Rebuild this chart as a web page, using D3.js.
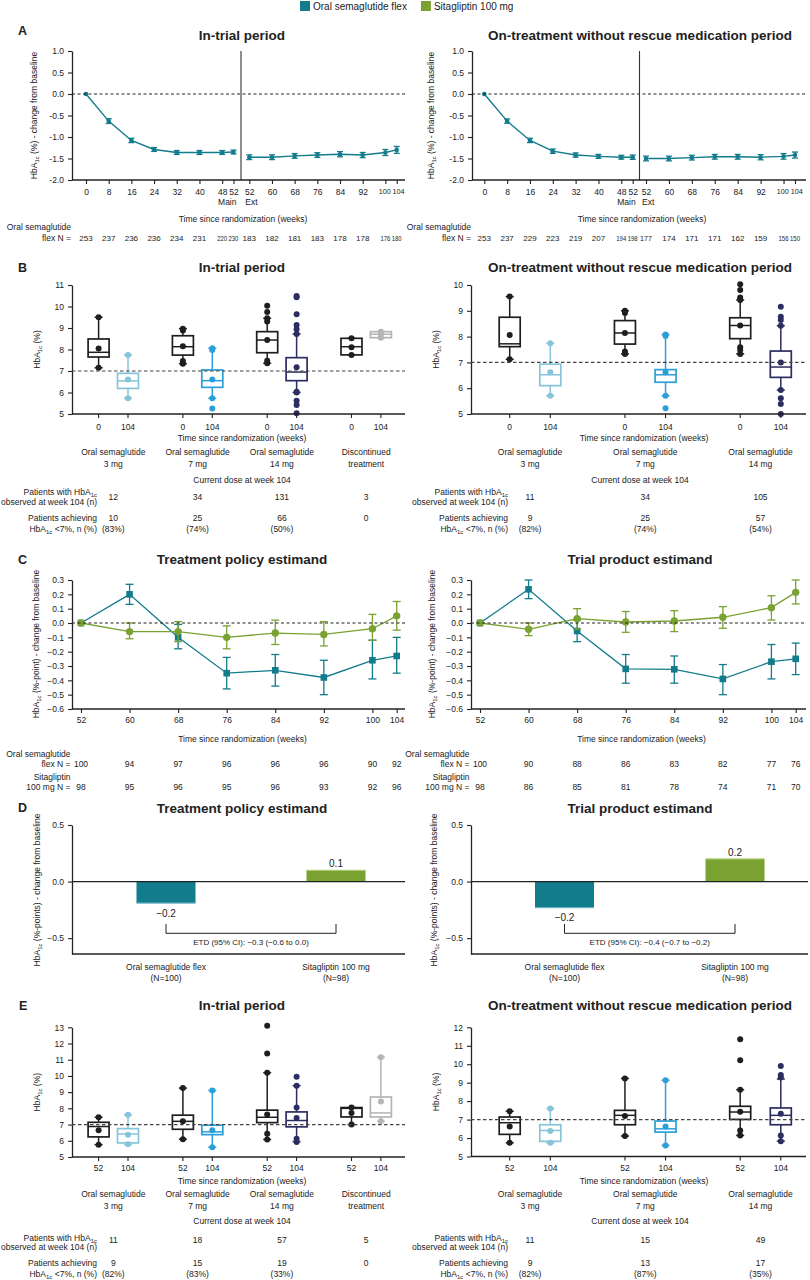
<!DOCTYPE html>
<html>
<head>
<meta charset="utf-8">
<title>HbA1c change</title>
<script src="https://cdnjs.cloudflare.com/ajax/libs/d3/7.8.5/d3.min.js"></script>
<style>
  body { margin: 0; background: #fff; }
  svg text { font-family: "Liberation Sans", Arial, Helvetica, sans-serif; }
</style>
</head>
<body>
<svg id="fig" width="810" height="1280"></svg>
<script>
// ---------------- data ----------------
var seriesNames = ["Oral semaglutide flex", "Sitagliptin 100 mg"]

// A: change from baseline over time
var weeksMain = [0, 8, 16, 24, 32, 40, 48, 52]
var weeksExt = [52, 60, 68, 76, 84, 92, 100, 104]
var aYTicks = [1.0, 0.5, 0.0, -0.5, -1.0, -1.5, -2.0]
var aTrialMain = [0, -0.63, -1.08, -1.29, -1.36, -1.36, -1.36, -1.35]
var aTrialMainErr = [0, 0.055, 0.05, 0.045, 0.045, 0.045, 0.045, 0.045]
var aTrialExt = [-1.47, -1.47, -1.44, -1.42, -1.40, -1.42, -1.36, -1.30]
var aTrialExtErr = [0.055, 0.055, 0.055, 0.055, 0.06, 0.06, 0.07, 0.08]
var aTrialN = [253, 237, 236, 236, 234, 231, 220, 230, 183, 182, 181, 183, 178, 178, 176, 180]
var aOtMain = [0, -0.63, -1.08, -1.33, -1.42, -1.45, -1.47, -1.47]
var aOtMainErr = [0, 0.05, 0.05, 0.05, 0.05, 0.045, 0.045, 0.05]
var aOtExt = [-1.50, -1.50, -1.48, -1.46, -1.46, -1.47, -1.45, -1.42]
var aOtExtErr = [0.055, 0.055, 0.055, 0.055, 0.055, 0.06, 0.065, 0.07]
var aOtN = [253, 237, 229, 223, 219, 207, 194, 198, 177, 174, 171, 171, 162, 159, 156, 150]

// B: HbA1c by current dose, weeks 0 and 104
var bTimes = ["0", "104"]
var bGroupsTrial = [["Oral semaglutide", "3 mg"], ["Oral semaglutide", "7 mg"], ["Oral semaglutide", "14 mg"], ["Discontinued", "treatment"]]
var bGroupsOt = [["Oral semaglutide", "3 mg"], ["Oral semaglutide", "7 mg"], ["Oral semaglutide", "14 mg"]]
var bTrialBoxes = [
  {g: 0, t: 0, q1: 7.65, med: 7.87, q3: 8.49, mean: 8.05, lo: 7.15, hi: 9.5, pts: [7.15, 9.5]},
  {g: 0, t: 1, q1: 6.19, med: 6.54, q3: 6.89, mean: 6.61, lo: 5.73, hi: 7.75, pts: [5.73, 7.75]},
  {g: 1, t: 0, q1: 7.74, med: 8.13, q3: 8.64, mean: 8.15, lo: 7.34, hi: 8.97, pts: [7.34, 7.47, 8.88, 8.97]},
  {g: 1, t: 1, q1: 6.24, med: 6.55, q3: 7.05, mean: 6.61, lo: 5.73, hi: 8.06, pts: [5.26, 5.73, 7.98, 8.06]},
  {g: 2, t: 0, q1: 7.85, med: 8.44, q3: 8.83, mean: 8.44, lo: 7.36, hi: 9.45, pts: [7.36, 7.48, 9.3, 9.45, 9.75, 10.03]},
  {g: 2, t: 1, q1: 6.55, med: 6.95, q3: 7.62, mean: 7.17, lo: 6.0, hi: 8.72, pts: [5.03, 5.42, 5.62, 6.0, 6.04, 8.72, 8.94, 9.14, 9.64, 10.43, 10.49]},
  {g: 3, t: 0, q1: 7.75, med: 8.13, q3: 8.52, mean: 8.1, lo: 7.75, hi: 8.52, pts: [7.75, 8.52]},
  {g: 3, t: 1, q1: 8.55, med: 8.71, q3: 8.83, mean: 8.7, lo: 8.55, hi: 8.83, pts: [8.55, 8.83]}
]
var bOtBoxes = [
  {g: 0, t: 0, q1: 7.61, med: 7.72, q3: 8.75, mean: 8.06, lo: 7.12, hi: 9.55, pts: [7.12, 9.55]},
  {g: 0, t: 1, q1: 6.10, med: 6.52, q3: 6.93, mean: 6.62, lo: 5.71, hi: 7.74, pts: [5.71, 7.74]},
  {g: 1, t: 0, q1: 7.71, med: 8.14, q3: 8.62, mean: 8.14, lo: 7.33, hi: 9.0, pts: [7.33, 7.42, 8.91, 9.0]},
  {g: 1, t: 1, q1: 6.23, med: 6.52, q3: 6.72, mean: 6.62, lo: 5.71, hi: 8.08, pts: [5.22, 5.71, 8.02, 8.08]},
  {g: 2, t: 0, q1: 7.92, med: 8.43, q3: 8.73, mean: 8.43, lo: 7.33, hi: 9.42, pts: [7.33, 7.48, 7.59, 9.42, 9.52, 9.81, 10.03]},
  {g: 2, t: 1, q1: 6.42, med: 6.82, q3: 7.44, mean: 7.0, lo: 5.93, hi: 8.42, pts: [5.0, 5.39, 5.61, 5.93, 8.42, 8.64, 8.77, 9.16]}
]
var bTrialN = ["12", "34", "131", "3"]
var bTrialAch = ["10", "25", "66", "0"]
var bTrialPct = ["(83%)", "(74%)", "(50%)", ""]
var bOtN = ["11", "34", "105"]
var bOtAch = ["9", "25", "57"]
var bOtPct = ["(82%)", "(74%)", "(54%)"]

// C: change from week 52 in extension
var cWeeks = [52, 60, 68, 76, 84, 92, 100, 104]
var cYTicks = [0.3, 0.2, 0.1, 0.0, -0.1, -0.2, -0.3, -0.4, -0.5, -0.6]
var cTpSema = [0, 0.20, -0.10, -0.35, -0.33, -0.38, -0.26, -0.23]
var cTpSemaLo = [0, 0.13, -0.18, -0.46, -0.44, -0.50, -0.39, -0.35]
var cTpSemaHi = [0, 0.27, -0.01, -0.24, -0.22, -0.26, -0.12, -0.10]
var cTpSita = [0, -0.06, -0.06, -0.10, -0.07, -0.08, -0.04, 0.05]
var cTpSitaLo = [0, -0.11, -0.13, -0.18, -0.15, -0.16, -0.12, -0.05]
var cTpSitaHi = [0, 0.00, 0.01, -0.02, 0.02, 0.01, 0.06, 0.15]
var cTrSema = [0, 0.235, -0.056, -0.32, -0.323, -0.39, -0.27, -0.25]
var cTrSemaLo = [0, 0.17, -0.13, -0.42, -0.42, -0.50, -0.39, -0.36]
var cTrSemaHi = [0, 0.30, 0.02, -0.22, -0.23, -0.29, -0.15, -0.14]
var cTrSita = [0, -0.044, 0.03, 0.007, 0.014, 0.04, 0.107, 0.214]
var cTrSitaLo = [0, -0.088, -0.044, -0.065, -0.06, -0.037, 0.021, 0.133]
var cTrSitaHi = [0, 0.0, 0.10, 0.08, 0.086, 0.114, 0.19, 0.30]
var cTpSemaN = [100, 94, 97, 96, 96, 96, 90, 92]
var cTpSitaN = [98, 95, 96, 95, 96, 93, 92, 96]
var cTrSemaN = [100, 90, 88, 86, 83, 82, 77, 76]
var cTrSitaN = [98, 86, 85, 81, 78, 74, 71, 70]

// D: change at week 104
var dGroups = ["Oral semaglutide flex", "Sitagliptin 100 mg"]
var dGroupN = ["(N=100)", "(N=98)"]
var dYTicks = [0.5, 0.0, -0.5]
var dTpValues = [-0.19, 0.10]
var dTpLabels = ["\u22120.2", "0.1"]
var dTpEtd = "ETD (95% CI): \u22120.3 (\u22120.6 to 0.0)"
var dTrValues = [-0.23, 0.20]
var dTrLabels = ["\u22120.2", "0.2"]
var dTrEtd = "ETD (95% CI): \u22120.4 (\u22120.7 to \u22120.2)"

// E: HbA1c by current dose, weeks 52 and 104
var eTimes = ["52", "104"]
var eTrialBoxes = [
  {g: 0, t: 0, q1: 6.24, med: 6.88, q3: 7.14, mean: 6.65, lo: 5.76, hi: 7.45, pts: [5.76, 7.45]},
  {g: 0, t: 1, q1: 5.87, med: 6.42, q3: 6.75, mean: 6.38, lo: 5.78, hi: 7.6, pts: [5.78, 7.6]},
  {g: 1, t: 0, q1: 6.71, med: 7.2, q3: 7.58, mean: 7.2, lo: 6.1, hi: 9.25, pts: [6.1, 9.25]},
  {g: 1, t: 1, q1: 6.38, med: 6.55, q3: 6.96, mean: 6.65, lo: 5.6, hi: 9.1, pts: [5.6, 9.1]},
  {g: 2, t: 0, q1: 7.12, med: 7.45, q3: 7.89, mean: 7.62, lo: 6.08, hi: 10.2, pts: [6.08, 6.44, 10.2, 11.39, 13.1]},
  {g: 2, t: 1, q1: 6.86, med: 7.25, q3: 7.78, mean: 7.4, lo: 5.95, hi: 9.4, pts: [5.92, 6.13, 8.05, 9.4, 9.95]},
  {g: 3, t: 0, q1: 7.47, med: 8.0, q3: 8.05, mean: 7.72, lo: 7.0, hi: 8.05, pts: [7.0, 8.05]},
  {g: 3, t: 1, q1: 7.47, med: 7.72, q3: 8.7, mean: 8.42, lo: 7.2, hi: 11.15, pts: [7.2, 11.15]}
]
var eOtBoxes = [
  {g: 0, t: 0, q1: 6.2, med: 6.83, q3: 7.14, mean: 6.62, lo: 5.74, hi: 7.45, pts: [5.74, 7.45]},
  {g: 0, t: 1, q1: 5.82, med: 6.41, q3: 6.72, mean: 6.38, lo: 5.74, hi: 7.6, pts: [5.74, 7.6]},
  {g: 1, t: 0, q1: 6.72, med: 7.23, q3: 7.5, mean: 7.2, lo: 6.11, hi: 9.23, pts: [6.11, 9.23]},
  {g: 1, t: 1, q1: 6.32, med: 6.5, q3: 6.92, mean: 6.63, lo: 5.6, hi: 9.13, pts: [5.6, 9.13]},
  {g: 2, t: 0, q1: 7.01, med: 7.41, q3: 7.72, mean: 7.43, lo: 6.14, hi: 8.62, pts: [6.14, 6.41, 8.62, 10.22, 11.35]},
  {g: 2, t: 1, q1: 6.72, med: 7.23, q3: 7.63, mean: 7.32, lo: 5.83, hi: 9.2, pts: [5.83, 6.14, 9.28, 9.41, 9.9]}
]
var eTrialN = ["11", "18", "57", "5"]
var eTrialAch = ["9", "15", "19", "0"]
var eTrialPct = ["(82%)", "(83%)", "(33%)", ""]
var eOtN = ["11", "15", "49"]
var eOtAch = ["9", "13", "17"]
var eOtPct = ["(82%)", "(87%)", "(35%)"]

// ---------------- drawing ----------------
var svg = d3.select("#fig")
var INK = "#222"
var TEAL = "#127b8c"
var GREEN = "#7aa232"
var BOX0 = "#1e1e1e"
var BOX104 = ["#86c4d9", "#2ba0d8", "#2c2d60", "#b5b5b5"]

function txt(x, y, s, o) {
  o = o || {}
  return svg.append("text").attr("x", x).attr("y", y)
    .attr("text-anchor", o.anchor || "middle")
    .style("font-size", (o.size || 8.5) + "px")
    .style("font-weight", o.bold ? "bold" : "normal")
    .attr("fill", INK)
    .text(s)
}

// text with a "1c" subscript part
function rich(x, y, parts, anchor, rotate) {
  var t = svg.append("text").attr("text-anchor", anchor || "middle")
    .style("font-size", "8.5px").attr("fill", INK)
  if (rotate) t.attr("transform", "translate(" + x + "," + y + ") rotate(-90)")
  else t.attr("x", x).attr("y", y)
  var down = false
  parts.forEach(function (p) {
    var sp = t.append("tspan").text(p[0])
    if (p[1]) { sp.attr("dy", 2).style("font-size", "6px"); down = true }
    else if (down) { sp.attr("dy", -2); down = false }
  })
  return t
}

function styleAxis(g) {
  g.attr("font-size", 8.5)
  g.select(".domain").attr("stroke", INK).attr("stroke-width", 1.3)
  g.selectAll(".tick line").attr("stroke", INK).attr("stroke-width", 1.1)
  g.selectAll(".tick text").attr("fill", INK).style("font-size", "8.5px")
}

// narrow a centred label only when its neighbours sit too close
function fitRow(sel, xs, pad) {
  sel.each(function (d, i) {
    var gap = Infinity
    if (i > 0) gap = Math.min(gap, xs[i] - xs[i - 1])
    if (i < xs.length - 1) gap = Math.min(gap, xs[i + 1] - xs[i])
    var w = this.getComputedTextLength()
    if (w > gap - pad) d3.select(this).attr("textLength", gap - pad).attr("lengthAdjust", "spacingAndGlyphs")
  })
}

function hline(x1, x2, y, o) {
  o = o || {}
  return svg.append("line").attr("x1", x1).attr("x2", x2).attr("y1", y).attr("y2", y)
    .attr("stroke", o.color || INK).attr("stroke-width", o.w || 1.3)
    .attr("stroke-dasharray", o.dash || null)
}

function errorBars(g, pts, cap, color) {
  var eb = g.append("g").selectAll("g").data(pts.filter(function (d) { return d.lo !== d.hi })).join("g")
  eb.append("line").attr("x1", d => d.x).attr("x2", d => d.x).attr("y1", d => d.lo).attr("y2", d => d.hi)
  eb.append("line").attr("x1", d => d.x - cap / 2).attr("x2", d => d.x + cap / 2).attr("y1", d => d.lo).attr("y2", d => d.lo)
  eb.append("line").attr("x1", d => d.x - cap / 2).attr("x2", d => d.x + cap / 2).attr("y1", d => d.hi).attr("y2", d => d.hi)
  eb.selectAll("line").attr("stroke", color).attr("stroke-width", 1.3)
}

// legend
var lg = svg.append("g")
var lx = 300
seriesNames.forEach(function (name, i) {
  lg.append("rect").attr("x", lx).attr("y", 1).attr("width", 10).attr("height", 10)
    .attr("fill", i === 0 ? TEAL : GREEN)
  var t = lg.append("text").attr("x", lx + 13).attr("y", 10).style("font-size", "10px").attr("fill", INK).text(name)
  lx += 13 + t.node().getComputedTextLength() + 14
})

// ---- panel A ----
function linePanel(o) {
  var y = d3.scaleLinear().domain([-2, 1]).range([180, 51])
  var xM = d3.scaleLinear().domain([0, 52]).range(o.main)
  var xE = d3.scaleLinear().domain([52, 104]).range(o.ext)
  var g = svg.append("g")

  hline(o.axisX, o.xEnd, y(0), {w: 1, dash: "3,2.5"})
  svg.append("line").attr("x1", o.divider).attr("x2", o.divider).attr("y1", y(1)).attr("y2", y(-2))
    .attr("stroke", "#333").attr("stroke-width", 1.1)

  var ya = g.append("g").attr("transform", "translate(" + o.axisX + ",0)")
    .call(d3.axisLeft(y).tickValues(aYTicks).tickFormat(d => d.toFixed(1)).tickSize(4).tickPadding(4).tickSizeOuter(0))
  styleAxis(ya)
  hline(o.axisX, o.xEnd, y(-2))
  var xa1 = g.append("g").attr("transform", "translate(0," + y(-2) + ")")
    .call(d3.axisBottom(xM).tickValues(weeksMain).tickSize(4).tickPadding(5))
  var xa2 = g.append("g").attr("transform", "translate(0," + y(-2) + ")")
    .call(d3.axisBottom(xE).tickValues(weeksExt).tickSize(4).tickPadding(5))
  xa1.select(".domain").remove()
  xa2.select(".domain").remove()
  styleAxis(xa1)
  styleAxis(xa2)
  // the last two ext ticks are only 4 weeks apart: smaller labels, nudged apart
  xa2.selectAll(".tick text").filter(d => d >= 100)
    .style("font-size", "7.2px").attr("dx", d => d === 100 ? -1.2 : 1.2)
  txt(xM(52) + 3, 205, "Main", {anchor: "end"})
  txt(xE(52) - 4, 205, "Ext", {anchor: "start"})
  txt(o.timeX, 222, "Time since randomization (weeks)")

  var pm = weeksMain.map((w, i) => ({x: xM(w), v: o.mainVals[i], lo: y(o.mainVals[i] - o.mainErr[i]), hi: y(o.mainVals[i] + o.mainErr[i])}))
  var pe = weeksExt.map((w, i) => ({x: xE(w), v: o.extVals[i], lo: y(o.extVals[i] - o.extErr[i]), hi: y(o.extVals[i] + o.extErr[i])}))
  var line = d3.line().x(d => d.x).y(d => y(d.v))
  ;[pm, pe].forEach(function (pts) {
    g.append("path").attr("d", line(pts)).attr("fill", "none").attr("stroke", TEAL).attr("stroke-width", 1.4)
    errorBars(g, pts, 6, TEAL)
    g.append("g").selectAll("circle").data(pts).join("circle")
      .attr("cx", d => d.x).attr("cy", d => y(d.v)).attr("r", 2.3).attr("fill", TEAL)
  })

  txt(o.axisX - 1, 230, "Oral semaglutide", {anchor: "end"})
  txt(o.axisX - 1, 241, "flex N =", {anchor: "end"})
  var allX = pm.concat(pe).map(d => d.x)
  var nt = g.append("g").selectAll("text").data(o.n).join("text")
    .attr("x", (d, i) => allX[i]).attr("y", 241).attr("text-anchor", "middle")
    .style("font-size", "8px").attr("fill", INK).text(d => d)
  fitRow(nt, allX, 1.5)

  rich(o.labelX, 115.5, [["HbA"], ["1c", 1], [" (%) - change from baseline"]], "middle", true)
  txt(o.titleX, 40, o.title, {size: 13.5, bold: true})
}

txt(18, 35, "A", {anchor: "start", size: 12.5, bold: true})
linePanel({axisX: 72, xEnd: 405, main: [86, 233.5], ext: [249.3, 396.7], divider: 241, timeX: 243, labelX: 37,
  titleX: 242, title: "In-trial period", mainVals: aTrialMain, mainErr: aTrialMainErr, extVals: aTrialExt, extErr: aTrialExtErr, n: aTrialN})
linePanel({axisX: 472, xEnd: 806, main: [484.3, 632.7], ext: [646, 795], divider: 639.5, timeX: 642, labelX: 434,
  titleX: 640, title: "On-treatment without rescue medication period", mainVals: aOtMain, mainErr: aOtMainErr, extVals: aOtExt, extErr: aOtExtErr, n: aOtN})

// ---- panels B and E ----
function boxPanel(o) {
  var y = d3.scaleLinear().domain(o.yDomain).range(o.yRange)
  var gx = d3.scalePoint().domain(d3.range(o.groups.length)).range(o.groupRange)
  var tx = d3.scalePoint().domain([0, 1]).range([-o.inner, o.inner])
  var bx = d => gx(d.g) + tx(d.t)
  var colour = d => d.t === 0 ? BOX0 : BOX104[d.g]
  var g = svg.append("g")
  var r = o.rows

  hline(o.axisX, o.xEnd, y(7), {color: "#444", w: 1.1, dash: "3.5,2.5"})
  var ya = g.append("g").attr("transform", "translate(" + o.axisX + ",0)")
    .call(d3.axisLeft(y).tickValues(d3.range(o.yDomain[0], o.yDomain[1] + 1)).tickFormat(d3.format("d"))
      .tickSize(4).tickPadding(4).tickSizeOuter(0))
  styleAxis(ya)
  hline(o.axisX, o.xEnd, o.yRange[0], {w: 1.5})

  var tk = g.append("g").selectAll("g").data(o.boxes).join("g")
    .attr("transform", d => "translate(" + bx(d) + "," + o.yRange[0] + ")")
  tk.append("line").attr("y2", 4).attr("stroke", INK).attr("stroke-width", 1.1)
  tk.append("text").attr("y", r.tick - o.yRange[0]).attr("text-anchor", "middle")
    .style("font-size", "8.5px").attr("fill", INK).text(d => o.times[d.t])

  var bw = 21
  g.append("g").selectAll("g").data(o.boxes).join("g").each(function (d) {
    var s = d3.select(this)
    var x = bx(d), c = colour(d)
    s.append("line").attr("x1", x).attr("x2", x).attr("y1", y(d.lo)).attr("y2", y(d.hi))
      .attr("stroke", c).attr("stroke-width", 1.5)
    s.selectAll(".cap").data([d.lo, d.hi]).join("line")
      .attr("x1", x - 4).attr("x2", x + 4).attr("y1", v => y(v)).attr("y2", v => y(v))
      .attr("stroke", c).attr("stroke-width", 1.5)
    s.append("rect").attr("x", x - bw / 2).attr("y", y(d.q3)).attr("width", bw).attr("height", y(d.q1) - y(d.q3))
      .attr("fill", "#fff").attr("stroke", c).attr("stroke-width", 1.7)
    s.append("line").attr("x1", x - bw / 2).attr("x2", x + bw / 2).attr("y1", y(d.med)).attr("y2", y(d.med))
      .attr("stroke", c).attr("stroke-width", 1.5)
    s.selectAll(".pt").data(d.pts.concat([d.mean])).join("circle")
      .attr("cx", x).attr("cy", v => y(v)).attr("r", 3).attr("fill", c)
  })

  txt(o.timeX, r.time, "Time since randomization (weeks)")
  g.append("g").selectAll("text").data(o.groups).join("text")
    .attr("x", (d, i) => gx(i)).attr("y", r.grp).attr("text-anchor", "middle")
    .style("font-size", "8.5px").attr("fill", INK)
    .selectAll("tspan").data(d => d).join("tspan")
    .attr("x", function () { return d3.select(this.parentNode).attr("x") })
    .attr("dy", (d, i) => i === 0 ? 0 : 12).text(d => d)
  txt(o.curX, r.cur, "Current dose at week 104")

  rich(o.labelX, r.r1a, [["Patients with HbA"], ["1c", 1]], "end")
  txt(o.labelX, r.r1b, "observed at week 104 (n)", {anchor: "end"})
  rich(o.labelX, r.r2a, [["Patients achieving"]], "end")
  rich(o.labelX, r.r2b, [["HbA"], ["1c", 1], [" <7%, n (%)"]], "end")
  var rows = [[o.n, r.r1n], [o.ach, r.r2a], [o.pct, r.r2b]]
  rows.forEach(function (row) {
    g.append("g").selectAll("text").data(row[0]).join("text")
      .attr("x", (d, i) => gx(i)).attr("y", row[1]).attr("text-anchor", "middle")
      .style("font-size", "8.5px").attr("fill", INK).text(d => d)
  })

  rich(o.yLabelX, (o.yRange[0] + o.yRange[1]) / 2, [["HbA"], ["1c", 1], [" (%)"]], "middle", true)
  txt(o.titleX, o.titleY, o.title, {size: 13.5, bold: true})
}

var bRows = {tick: 430, time: 441, grp: 455, cur: 483, r1a: 494.7, r1b: 504.7, r1n: 500, r2a: 520.5, r2b: 532}
var eRows = {tick: 1170.5, time: 1184, grp: 1197, cur: 1223.5, r1a: 1241.3, r1b: 1250.3, r1n: 1243, r2a: 1266, r2b: 1277}

txt(18, 271.5, "B", {anchor: "start", size: 12.5, bold: true})
boxPanel({boxes: bTrialBoxes, groups: bGroupsTrial, times: bTimes, yDomain: [5, 11], yRange: [414, 285],
  axisX: 72, xEnd: 405, groupRange: [113.3, 366.2], inner: 14.7, rows: bRows, timeX: 242, curX: 242,
  labelX: 97, yLabelX: 40, titleX: 242, titleY: 272, title: "In-trial period",
  n: bTrialN, ach: bTrialAch, pct: bTrialPct})
boxPanel({boxes: bOtBoxes, groups: bGroupsOt, times: bTimes, yDomain: [5, 10], yRange: [414, 285],
  axisX: 471, xEnd: 806, groupRange: [530, 760.5], inner: 20.3, rows: bRows, timeX: 644, curX: 640,
  labelX: 508, yLabelX: 439, titleX: 640, titleY: 272, title: "On-treatment without rescue medication period",
  n: bOtN, ach: bOtAch, pct: bOtPct})

txt(19, 1010, "E", {anchor: "start", size: 12.5, bold: true})
boxPanel({boxes: eTrialBoxes, groups: bGroupsTrial, times: eTimes, yDomain: [5, 13], yRange: [1157, 1027.3],
  axisX: 72, xEnd: 405, groupRange: [113.3, 366.2], inner: 14.7, rows: eRows, timeX: 242, curX: 242,
  labelX: 97, yLabelX: 40, titleX: 242, titleY: 1009.5, title: "In-trial period",
  n: eTrialN, ach: eTrialAch, pct: eTrialPct})
boxPanel({boxes: eOtBoxes, groups: bGroupsOt, times: eTimes, yDomain: [5, 12], yRange: [1156.5, 1027.3],
  axisX: 471, xEnd: 806, groupRange: [530, 760.5], inner: 20.3, rows: eRows, timeX: 644, curX: 640,
  labelX: 508, yLabelX: 439, titleX: 640, titleY: 1009.5, title: "On-treatment without rescue medication period",
  n: eOtN, ach: eOtAch, pct: eOtPct})

// ---- panel C ----
var minusFmt = d => (d < -1e-9 ? "\u2212" : "") + Math.abs(d).toFixed(1)

function cPanel(o) {
  var y = d3.scaleLinear().domain([-0.6, 0.3]).range([709, 580])
  var x = d3.scaleLinear().domain([52, 104]).range(o.xRange)
  var g = svg.append("g")

  hline(o.axisX, o.xEnd, y(0), {w: 1, dash: "3,2.5"})
  var ya = g.append("g").attr("transform", "translate(" + o.axisX + ",0)")
    .call(d3.axisLeft(y).tickValues(cYTicks).tickFormat(minusFmt).tickSize(4).tickPadding(4).tickSizeOuter(0))
  styleAxis(ya)
  hline(o.axisX, o.xEnd, y(-0.6))
  var xa = g.append("g").attr("transform", "translate(0," + y(-0.6) + ")")
    .call(d3.axisBottom(x).tickValues(cWeeks).tickSize(4).tickPadding(4))
  xa.select(".domain").remove()
  styleAxis(xa)

  var line = d3.line().x(d => d.x).y(d => d.y)
  var series = [
    {v: o.sema, lo: o.semaLo, hi: o.semaHi, c: TEAL, sq: true},
    {v: o.sita, lo: o.sitaLo, hi: o.sitaHi, c: GREEN, sq: false}
  ]
  series.forEach(function (s) {
    var pts = cWeeks.map((w, i) => ({x: x(w), y: y(s.v[i]), lo: y(s.lo[i]), hi: y(s.hi[i])}))
    g.append("path").attr("d", line(pts)).attr("fill", "none").attr("stroke", s.c).attr("stroke-width", 1.3)
    errorBars(g, pts, 8, s.c)
    if (s.sq) {
      g.append("g").selectAll("rect").data(pts).join("rect")
        .attr("x", d => d.x - 3.3).attr("y", d => d.y - 3.3).attr("width", 6.6).attr("height", 6.6).attr("fill", s.c)
    } else {
      g.append("g").selectAll("circle").data(pts).join("circle")
        .attr("cx", d => d.x).attr("cy", d => d.y).attr("r", 3.7).attr("fill", s.c)
    }
  })

  txt(o.timeX, 742, "Time since randomization (weeks)")
  txt(o.axisX - 1.5, 757, "Oral semaglutide", {anchor: "end"})
  txt(o.axisX - 1.5, 767, "flex N =", {anchor: "end"})
  txt(o.axisX - 1.5, 779.5, "Sitagliptin", {anchor: "end"})
  txt(o.axisX - 1.5, 789.5, "100 mg N =", {anchor: "end"})
  ;[[o.semaN, 767], [o.sitaN, 789.5]].forEach(function (row) {
    g.append("g").selectAll("text").data(row[0]).join("text")
      .attr("x", (d, i) => x(cWeeks[i])).attr("y", row[1]).attr("text-anchor", "middle")
      .style("font-size", "8.5px").attr("fill", INK).text(d => d)
  })

  rich(o.yLabelX, 644, [["HbA"], ["1c", 1], [" (%-point) - change from baseline"]], "middle", true)
  txt(o.titleX, 564, o.title, {size: 13.5, bold: true})
}

txt(18, 564, "C", {anchor: "start", size: 12.5, bold: true})
cPanel({axisX: 72, xEnd: 405, xRange: [81, 396.7], timeX: 242.5, yLabelX: 39, titleX: 242, title: "Treatment policy estimand",
  sema: cTpSema, semaLo: cTpSemaLo, semaHi: cTpSemaHi, sita: cTpSita, sitaLo: cTpSitaLo, sitaHi: cTpSitaHi,
  semaN: cTpSemaN, sitaN: cTpSitaN})
cPanel({axisX: 471, xEnd: 806, xRange: [480, 795.7], timeX: 641.5, yLabelX: 435, titleX: 640, title: "Trial product estimand",
  sema: cTrSema, semaLo: cTrSemaLo, semaHi: cTrSemaHi, sita: cTrSita, sitaLo: cTrSitaLo, sitaHi: cTrSitaHi,
  semaN: cTrSemaN, sitaN: cTrSitaN})

// ---- panel D ----
function dPanel(o) {
  var y = d3.scaleLinear().domain([-0.64, 0.5]).range([954, 825])
  var x = d3.scalePoint().domain(dGroups).range(o.xRange)
  var g = svg.append("g")
  var bw = 59

  var ya = g.append("g").attr("transform", "translate(" + o.axisX + ",0)")
    .call(d3.axisLeft(y).tickValues(dYTicks).tickFormat(minusFmt).tickSize(4).tickPadding(4).tickSizeOuter(0))
  styleAxis(ya)
  hline(o.axisX, o.xEnd, y(-0.64))

  var bars = dGroups.map((name, i) => ({name: name, v: o.values[i], label: o.labels[i], c: i === 0 ? TEAL : GREEN, lc: i === 0 ? "#6fb6c4" : "#b4cf7c"}))
  g.append("g").selectAll("rect").data(bars).join("rect")
    .attr("x", d => x(d.name) - bw / 2).attr("width", bw)
    .attr("y", d => Math.min(y(d.v), y(0))).attr("height", d => Math.abs(y(d.v) - y(0)))
    .attr("fill", d => d.c)
  g.append("g").selectAll("line").data(bars).join("line")
    .attr("x1", d => x(d.name) - bw / 2).attr("x2", d => x(d.name) + bw / 2)
    .attr("y1", d => y(d.v)).attr("y2", d => y(d.v)).attr("stroke", d => d.lc).attr("stroke-width", 1.2)
  hline(o.axisX, o.xEnd, y(0), {w: 1.4})
  g.append("g").selectAll("text").data(bars).join("text")
    .attr("x", d => x(d.name)).attr("y", d => d.v < 0 ? y(d.v) + 13.5 : y(d.v) - 3)
    .attr("text-anchor", "middle").style("font-size", "10px").attr("fill", INK).text(d => d.label)

  var x0 = x(dGroups[0]), x1 = x(dGroups[1])
  g.append("path").attr("d", "M" + x0 + ",924V933.3H" + x1 + "V924")
    .attr("fill", "none").attr("stroke", INK).attr("stroke-width", 1)
  txt((x0 + x1) / 2, 944.5, o.etd, {size: 8})

  g.append("g").selectAll("text").data(dGroups).join("text")
    .attr("x", d => x(d)).attr("y", 969.5).attr("text-anchor", "middle")
    .style("font-size", "8.5px").attr("fill", INK).text(d => d)
  g.append("g").selectAll("text").data(dGroupN).join("text")
    .attr("x", (d, i) => x(dGroups[i])).attr("y", 980.5).attr("text-anchor", "middle")
    .style("font-size", "8.5px").attr("fill", INK).text(d => d)

  rich(o.yLabelX, 890, [["HbA"], ["1c", 1], [" (%-points) - change from baseline"]], "middle", true)
  txt(o.titleX, 812.7, o.title, {size: 13.5, bold: true})
}

txt(18, 812, "D", {anchor: "start", size: 12.5, bold: true})
dPanel({axisX: 72, xEnd: 405, xRange: [166, 336], yLabelX: 40, titleX: 242, title: "Treatment policy estimand",
  values: dTpValues, labels: dTpLabels, etd: dTpEtd})
dPanel({axisX: 471, xEnd: 808, xRange: [564.5, 735], yLabelX: 437, titleX: 640, title: "Trial product estimand",
  values: dTrValues, labels: dTrLabels, etd: dTrEtd})
</script>
</body>
</html>
